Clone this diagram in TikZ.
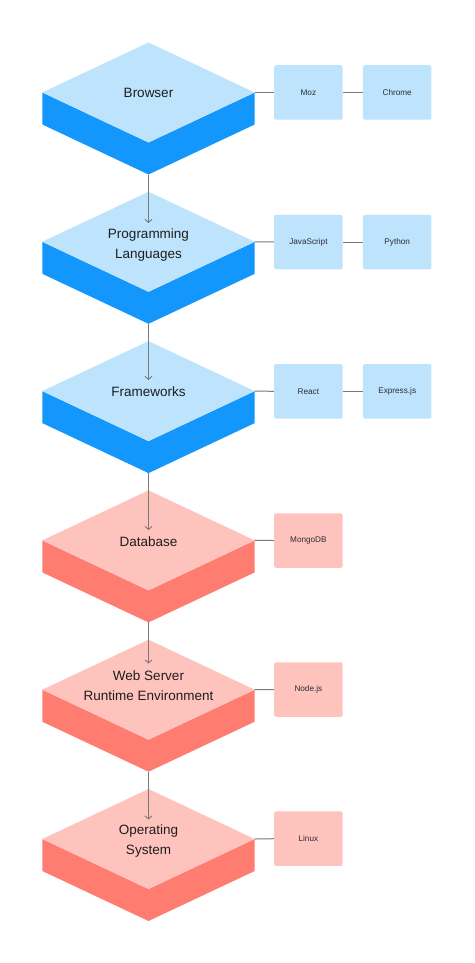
\documentclass[tikz,border=0pt]{standalone}
\usepackage{fontspec}
\setmainfont{Liberation Sans}
\usetikzlibrary{arrows.meta}
\definecolor{bluetop}{HTML}{BEE3FC}
\definecolor{blueside}{HTML}{1497FC}
\definecolor{pinktop}{HTML}{FFC3BE}
\definecolor{pinkside}{HTML}{FF7C70}
\definecolor{linegray}{HTML}{7A7A7A}
\definecolor{txt}{HTML}{1E1E1E}
\definecolor{boxtxt}{HTML}{2A2C36}
\newcommand\isoblock[4]{%
  \fill[#4] (42.3,#2) -- (148.5,#2+50) -- (254.7,#2) -- (254.7,#2+32) -- (148.5,#2+82) -- (42.3,#2+32) -- cycle;
  \fill[#3] (42.3,#2) -- (148.5,#2-50) -- (254.7,#2) -- (148.5,#2+50) -- cycle;
  \coordinate (#1-r) at (254.7,#2);
  \coordinate (#1-b) at (148.5,#2+82);
}
\begin{document}
\begin{tikzpicture}[x=1pt,y=-1pt,
  blocktext/.style={text=txt,align=center,font=\fontsize{13.5}{20}\selectfont,inner sep=0pt},
  sidebox/.style={minimum width=68.5pt,minimum height=54.5pt,inner sep=0pt,rounded corners=2pt,text=boxtxt,font=\fontsize{8.2}{10}\selectfont},
  bluebox/.style={sidebox,fill=bluetop},
  pinkbox/.style={sidebox,fill=pinktop},
  conn/.style={draw=linegray,line width=1pt},
  arr/.style={draw=linegray,line width=0.9pt,-{Straight Barb[length=3pt,width=7pt]}}]
\useasboundingbox (0,0) rectangle (474,963);
\fill[white] (0,0) rectangle (474,963);

% blocks
\isoblock{k1}{92.5}{bluetop}{blueside}
\isoblock{k2}{241.8}{bluetop}{blueside}
\isoblock{k3}{391.1}{bluetop}{blueside}
\isoblock{k4}{540.4}{pinktop}{pinkside}
\isoblock{k5}{689.7}{pinktop}{pinkside}
\isoblock{k6}{839.0}{pinktop}{pinkside}

% block labels
\node[blocktext] (browser) at (148.5,93) {Browser};
\node[blocktext] (lang) at (148.5,245.5) {Programming\\Languages};
\node[blocktext] (frame) at (148.5,391.5) {Frameworks};
\node[blocktext] (db) at (148.5,541.5) {Database};
\node[blocktext] (web) at (148.5,686) {Web Server\\Runtime Environment};
\node[blocktext] (os) at (148.5,841) {Operating\\System};

% arrow tips
\coordinate (t2) at (148.5,223);
\coordinate (t3) at (148.5,380);
\coordinate (t4) at (148.5,530);
\coordinate (t5) at (148.5,663.5);
\coordinate (t6) at (148.5,819.5);

\draw[arr] (k1-b) -- (t2);
\draw[arr] (k2-b) -- (t3);
\draw[arr] (k3-b) -- (t4);
\draw[arr] (k4-b) -- (t5);
\draw[arr] (k5-b) -- (t6);

% side boxes
\node[bluebox] (moz) at (308.4,92.5) {Moz};
\node[bluebox] (chrome) at (397.2,92.5) {Chrome};
\node[bluebox] (js) at (308.4,242) {JavaScript};
\node[bluebox] (py) at (397.2,242) {Python};
\node[bluebox] (react) at (308.4,391.3) {React};
\node[bluebox] (express) at (397.2,391.3) {Express.js};
\node[pinkbox] (mongo) at (308.4,540.5) {MongoDB};
\node[pinkbox] (node) at (308.4,689.5) {Node.js};
\node[pinkbox] (linux) at (308.4,838.7) {Linux};

% connectors
\draw[conn] (k1-r) -- (moz.west);
\draw[conn] (moz.east) -- (chrome.west);
\draw[conn] (k2-r) -- (js.west);
\draw[conn] (js.east) -- (py.west);
\draw[conn] (k3-r) -- (react.west);
\draw[conn] (react.east) -- (express.west);
\draw[conn] (k4-r) -- (mongo.west);
\draw[conn] (k5-r) -- (node.west);
\draw[conn] (k6-r) -- (linux.west);
\end{tikzpicture}
\end{document}
